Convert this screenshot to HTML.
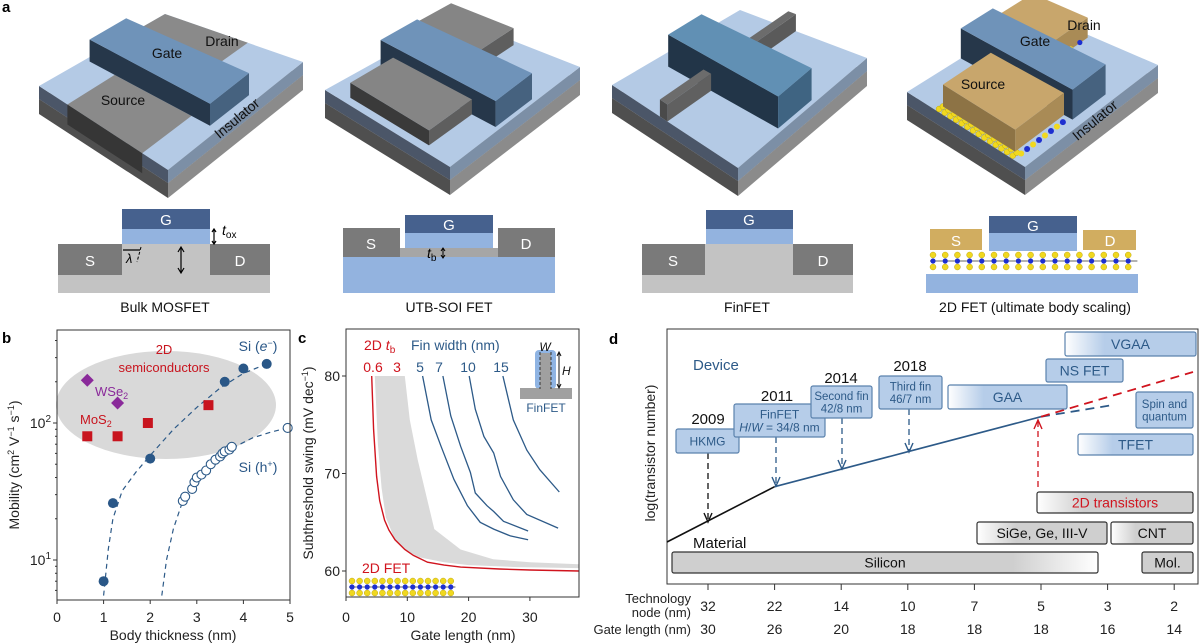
<!DOCTYPE html>
<html><head><meta charset="utf-8">
<style>
html,body{margin:0;padding:0;background:#fff;}
svg{display:block;font-family:"Liberation Sans",Arial,sans-serif;}
</style></head>
<body>
<svg id="fig" width="1200" height="644" viewBox="0 0 1200 644" xmlns="http://www.w3.org/2000/svg">
<defs>
<linearGradient id="gBlue" x1="0" x2="1" y1="0" y2="0"><stop offset="0" stop-color="#ffffff"/><stop offset="0.3" stop-color="#b6cde9"/><stop offset="1" stop-color="#b6cde9"/></linearGradient>
<linearGradient id="gGray" x1="0" x2="1" y1="0" y2="0"><stop offset="0" stop-color="#ffffff"/><stop offset="0.3" stop-color="#cfcfcf"/><stop offset="1" stop-color="#cfcfcf"/></linearGradient>
<linearGradient id="gGrayR" x1="0" x2="1" y1="0" y2="0"><stop offset="0" stop-color="#cfcfcf"/><stop offset="0.8" stop-color="#cfcfcf"/><stop offset="1" stop-color="#ffffff"/></linearGradient>
</defs>
<g id="panelA"></g>
<g id="panelB"></g>
<g id="panelC"></g>
<g id="panelD"></g>
</svg>
<script>
// ---------- Panel b data ----------
const siEx = [1, 1.2, 2, 3.6, 4, 4.5];
const siEy = [7, 26, 55, 200, 250, 270];
const siHx = [2.7, 2.75, 2.9, 2.95, 3.0, 3.1, 3.2, 3.3, 3.4, 3.5, 3.55, 3.6, 3.7, 3.75, 4.95];
const siHy = [27, 29, 33, 37, 40, 42, 45, 50, 54, 57, 60, 62, 64, 67, 92];
const mos2x = [0.65, 1.3, 1.95, 3.25];
const mos2y = [80, 80, 100, 135];
const wse2x = [0.65, 1.3];
const wse2y = [205, 140];
const fitEx = [1, 1.1, 1.2, 1.4, 1.7, 2, 2.5, 3, 3.5, 4, 4.5];
const fitEy = [5.5, 12, 20, 32, 44, 58, 90, 130, 180, 230, 270];
const fitHx = [2.25, 2.35, 2.5, 2.7, 3, 3.3, 3.7, 4.2, 4.6, 5];
const fitHy = [5.5, 10, 17, 27, 40, 50, 64, 78, 86, 93];
const bXTicks = [0, 1, 2, 3, 4, 5];
// ---------- Panel c data ----------
const red2Dx = [4.2, 4.5, 5, 5.5, 6.3, 7, 8, 9.6, 11, 13.3, 16, 18.7, 25, 30, 38];
const red2Dy = [80, 74.5, 69.7, 67.2, 65.2, 64.2, 63.2, 62.2, 61.6, 60.9, 60.6, 60.4, 60.2, 60.1, 60.0];
const bandTopX = [9.6, 10.4, 11.7, 14.4, 18.7, 24, 30, 38];
const bandTopY = [80, 75.5, 71.4, 64.3, 62.2, 61.2, 60.9, 60.7];
const bandLowX = [4.7, 5.2, 5.8, 6.5, 8, 10, 12, 16, 20, 28, 38];
const bandLowY = [80, 73, 68.5, 65.5, 63.2, 62, 61.4, 60.9, 60.6, 60.4, 60.3];
const fin5x = [12.5, 13.9, 15.5, 17.6, 19.8, 21.9, 24.1, 26.8, 29.7];
const fin5y = [80, 75.5, 72.8, 69.4, 66.7, 65, 64.3, 63.6, 63.2];
const fin7x = [15.8, 17.1, 18.7, 20.3, 21.1, 23, 24.1, 25.7, 29.7];
const fin7y = [80, 75.9, 72.8, 70.1, 68, 66.7, 66.1, 65.1, 64.1];
const fin10x = [20.1, 21.1, 22.5, 24.1, 25.2, 27.3, 29.5, 34.6];
const fin10y = [80, 76.6, 73.8, 72.1, 69.7, 67.3, 65.8, 64.4];
const fin15x = [25.6, 27.3, 29.5, 31.6, 34.8];
const fin15y = [80, 75.5, 72.4, 70.4, 68.1];
const cXTicks = [0, 10, 20, 30];
const cYTicks = [60, 70, 80];
// ---------- Panel d data ----------
const nodeLabels = ["32", "22", "14", "10", "7", "5", "3", "2"];
const gateLabels = ["30", "26", "20", "18", "18", "18", "16", "14"];
const trendIdx = [-0.6, 1, 2, 3, 5];
const trendVal = [1.2, 2.78, 3.28, 3.78, 4.78];

const NS = "http://www.w3.org/2000/svg";
function mk(tag, parent, attrs) {
  const e = document.createElementNS(NS, tag);
  for (const k in attrs) e.setAttribute(k, attrs[k]);
  parent.appendChild(e);
  return e;
}
function txt(parent, x, y, s, size, fill, anchor, extra) {
  const t = mk("text", parent, Object.assign({x: x, y: y, "font-size": size, fill: fill || "#111", "text-anchor": anchor || "start"}, extra || {}));
  t.innerHTML = s;
  return t;
}

// ================= Panel a =================
const A = document.getElementById("panelA");
const lblA = txt(A, 2, 12, "a", 15, "#000", "start", {"font-weight": "bold"});



// bilinear mapping between 4 top corners: L (left), F (front), R (right), K (back)
function makeDev(L, F, R, K) {
  return function (a, b, z) {
    const w0 = (1 - a) * (1 - b), w1 = a * (1 - b), w2 = a * b, w3 = (1 - a) * b;
    return [w0 * L[0] + w1 * F[0] + w2 * R[0] + w3 * K[0], w0 * L[1] + w1 * F[1] + w2 * R[1] + w3 * K[1] - z];
  };
}
function poly(g, pts, fill) {
  return mk("polygon", g, {points: pts.map(p => p[0].toFixed(1) + "," + p[1].toFixed(1)).join(" "), fill: fill});
}
function box(g, P, a0, a1, b0, b1, z0, z1, cTop, cLeft, cFront) {
  poly(g, [P(a0, b0, z1), P(a1, b0, z1), P(a1, b0, z0), P(a0, b0, z0)], cLeft);
  poly(g, [P(a1, b0, z1), P(a1, b1, z1), P(a1, b1, z0), P(a1, b0, z0)], cFront);
  poly(g, [P(a0, b0, z1), P(a1, b0, z1), P(a1, b1, z1), P(a0, b1, z1)], cTop);
}
function base(g, P) {
  box(g, P, 0, 1, 0, 1, -28, -13, "#8a8a8a", "#4f4f4f", "#8b8b8b");
  box(g, P, 0, 1, 0, 1, -13, 0, "#b4cae5", "#4b5668", "#7c8fa6");
}
const gateC = ["#6f93b9", "#26374a", "#46627f"];
const grayC = ["#858585", "#3a3a3a", "#5e5e5e"];
const goldC = ["#c8a66c", "#8d7345", "#a98b56"];

// Device 1: Bulk MOSFET
const g1 = mk("g", A, {});


const P1 = makeDev([39, 86], [168, 170], [303, 62], [165, 14]);
base(g1, P1);
poly(g1, [P1(0, 0.67, 0), P1(0.6, 0.67, 0), P1(0.6, 1, 0), P1(0, 1, 0)], "#8a8a8a");
poly(g1, [P1(0.22, 0, 0), P1(0.8, 0, 0), P1(0.8, 0.37, 0), P1(0.22, 0.37, 0)], "#8a8a8a");
poly(g1, [P1(0.22, 0, 0), P1(0.8, 0, 0), P1(0.8, 0, -20), P1(0.22, 0, -20)], "#363636");
box(g1, P1, 0.03, 0.94, 0.37, 0.66, 0, 22, gateC[0], gateC[1], gateC[2]);
txt(g1, 167, 58, "Gate", 14, "#111", "middle");
txt(g1, 222, 46, "Drain", 14, "#111", "middle");
txt(g1, 123, 105, "Source", 14, "#111", "middle");
txt(g1, 0, 0, "Insulator", 14, "#111", "middle", {transform: "translate(240,122) rotate(-40)"});

// Device 2: UTB-SOI
const g2 = mk("g", A, {});


const P2 = makeDev([325, 90], [450, 167], [580, 67], [455, 18]);
base(g2, P2);
box(g2, P2, 0.0, 0.5, 0.68, 0.97, 0, 17, grayC[0], grayC[1], grayC[2]);
box(g2, P2, 0.05, 0.97, 0.38, 0.66, 0, 26, gateC[0], gateC[1], gateC[2]);
box(g2, P2, 0.15, 0.78, 0.05, 0.38, 0, 15, grayC[0], grayC[1], grayC[2]);

// Device 3: FinFET
const g3 = mk("g", A, {});


const P3 = makeDev([612, 85], [738, 168], [867, 58], [740, 10]);
base(g3, P3);
box(g3, P3, 0.38, 0.44, 0.6, 1, 0, 17, "#6c6c6c", "#555", "#5a5a5a");
box(g3, P3, 0.1, 0.97, 0.34, 0.6, 0, 32, "#6190b4", "#223548", "#3f6482");
box(g3, P3, 0.38, 0.44, 0, 0.34, 0, 17, "#6c6c6c", "#4a4a4a", "#606060");

// Device 4: 2D FET
const g4 = mk("g", A, {});


const P4 = makeDev([907, 92], [1025, 167], [1158, 65], [1035, 12]);
base(g4, P4);
box(g4, P4, 0.0, 0.45, 0.68, 0.98, 0, 20, goldC[0], goldC[1], goldC[2]);
for (let i = 0; i < 4; i++) {
  const p = P4(0.46, 0.7 + i * 0.07, 2);
  mk("circle", g4, {cx: p[0], cy: p[1], r: 2.6, fill: i % 2 ? "#1d2fd0" : "#f0d820"});
}
box(g4, P4, 0.0, 0.93, 0.42, 0.67, 0, 30, gateC[0], gateC[1], gateC[2]);
for (let i = 0; i < 14; i++) {
  for (let r = 0; r < 2; r++) {
    const p = P4(0.25 + i * 0.048, 0.02 + r * 0.03, 0);
    mk("circle", g4, {cx: p[0], cy: p[1], r: 3, fill: "#f0d820", stroke: "#b8a000", "stroke-width": 0.4});
  }
}
for (let i = 0; i < 8; i++) {
  const p = P4(0.9, 0.06 + i * 0.045, 0);
  mk("circle", g4, {cx: p[0], cy: p[1], r: 3, fill: i % 2 ? "#1d2fd0" : "#f0d820"});
}
box(g4, P4, 0.25, 0.86, 0.05, 0.42, 0, 22, goldC[0], goldC[1], goldC[2]);
txt(g4, 1084, 30, "Drain", 14, "#111", "middle");
txt(g4, 1035, 46, "Gate", 14, "#111", "middle");
txt(g4, 983, 89, "Source", 14, "#111", "middle");
txt(g4, 0, 0, "Insulator", 14, "#111", "middle", {transform: "translate(1098,124) rotate(-40)"});

// cross sections
function rect(g, x, y, w, h, fill, name) {
  const r = mk("rect", g, {x: x, y: y, width: w, height: h, fill: fill});
  
  
  return r;
}
const x1 = mk("g", A, {});


rect(x1, 58, 244, 212, 49, "#c3c3c3", "substrate");
rect(x1, 58, 244, 64, 31, "#7a7a7a", "source-block");
rect(x1, 210, 244, 60, 31, "#7a7a7a", "drain-block");
rect(x1, 122, 209, 88, 20, "#46618e", "gate-block");
rect(x1, 122, 229, 88, 15, "#93b3df", "oxide-block");
txt(x1, 90, 266, "S", 15, "#fff", "middle");
txt(x1, 240, 266, "D", 15, "#fff", "middle");
txt(x1, 166, 225, "G", 15, "#fff", "middle");
mk("path", x1, {d: "M214,230 L214,243 M212,232 L214,229 L216,232 M212,241 L214,244 L216,241 M181,248 L181,272 M178,252 L181,247 L184,252 M178,268 L181,273 L184,268 M123,250 L140,250", stroke: "#000", "stroke-width": 1.2, fill: "none"});
mk("path", x1, {d: "M141,247 L137,262", stroke: "#000", "stroke-width": 1, "stroke-dasharray": "3,2", fill: "none"});
txt(x1, 126, 263, "λ", 13, "#000", "start", {"font-style": "italic"});
txt(x1, 222, 235, "<tspan font-style='italic'>t</tspan><tspan font-size='10' dy='3'>ox</tspan>", 14, "#000");
txt(x1, 165, 312, "Bulk MOSFET", 14, "#111", "middle");

const x2 = mk("g", A, {});


rect(x2, 343, 257, 212, 36, "#93b3df", "buried-oxide");
rect(x2, 400, 248, 98, 9, "#a6a6a6", "thin-body");
rect(x2, 343, 228, 57, 29, "#7a7a7a", "source-block");
rect(x2, 498, 228, 57, 29, "#7a7a7a", "drain-block");
rect(x2, 405, 215, 88, 18, "#46618e", "gate-block");
rect(x2, 405, 233, 88, 15, "#93b3df", "oxide-block");
txt(x2, 371, 249, "S", 15, "#fff", "middle");
txt(x2, 526, 249, "D", 15, "#fff", "middle");
txt(x2, 449, 230, "G", 15, "#fff", "middle");
txt(x2, 427, 258, "<tspan font-style='italic'>t</tspan><tspan font-size='10' dy='3'>b</tspan>", 14, "#000");
mk("path", x2, {d: "M443,249 L443,257 M441,251 L443,248 L445,251 M441,255 L443,258 L445,255", stroke: "#000", "stroke-width": 1, fill: "none"});
txt(x2, 449, 312, "UTB-SOI FET", 14, "#111", "middle");

const x3 = mk("g", A, {});


rect(x3, 642, 244, 211, 49, "#c3c3c3", "substrate");
rect(x3, 642, 244, 63, 31, "#7a7a7a", "source-block");
rect(x3, 793, 244, 60, 31, "#7a7a7a", "drain-block");
rect(x3, 706, 210, 87, 19, "#46618e", "gate-block");
rect(x3, 706, 229, 87, 15, "#93b3df", "oxide-block");
txt(x3, 673, 266, "S", 15, "#fff", "middle");
txt(x3, 823, 266, "D", 15, "#fff", "middle");
txt(x3, 749, 225, "G", 15, "#fff", "middle");
txt(x3, 747, 312, "FinFET", 14, "#111", "middle");

function atoms(g, x0, x1p, yTop, step) {
  for (let x = x0; x <= x1p; x += step) {
    mk("line", g, {x1: x, y1: yTop + 9, x2: x + step, y2: yTop + 9, stroke: "#999", "stroke-width": 1.5});
  }
  for (let x = x0 + 3; x <= x1p; x += step) {
    mk("circle", g, {cx: x, cy: yTop + 3, r: 3, fill: "#f0d820", stroke: "#b09800", "stroke-width": 0.4});
    mk("circle", g, {cx: x, cy: yTop + 15, r: 3, fill: "#f0d820", stroke: "#b09800", "stroke-width": 0.4});
    mk("circle", g, {cx: x, cy: yTop + 9, r: 2.6, fill: "#1d2fd0"});
  }
}
const x4 = mk("g", A, {});


rect(x4, 926, 274, 212, 19, "#93b3df", "substrate");
const at4 = mk("g", x4, {});


atoms(at4, 930, 1134, 252, 12.2);
rect(x4, 930, 229, 52, 21, "#d1ad60", "source-block");
rect(x4, 1083, 230, 53, 20, "#d1ad60", "drain-block");
rect(x4, 989, 216, 88, 17, "#46618e", "gate-block");
rect(x4, 989, 233, 88, 18, "#93b3df", "oxide-block");
txt(x4, 956, 246, "S", 15, "#fff", "middle");
txt(x4, 1110, 246, "D", 15, "#fff", "middle");
txt(x4, 1033, 231, "G", 15, "#fff", "middle");
txt(x4, 1035, 312, "2D FET (ultimate body scaling)", 14, "#111", "middle");

// ================= Panel b =================
const B = document.getElementById("panelB");
const bx0 = 57, bx1 = 290, by0 = 330, by1 = 600;
const xb = v => bx0 + v * (bx1 - bx0) / 5;
const yb = v => 423 - 137 * Math.log10(v / 100);
const lb = txt(B, 2, 343, "b", 15, "#000", "start", {"font-weight": "bold"});


const ell = mk("ellipse", B, {cx: 166, cy: 405, rx: 110, ry: 54, fill: "#d9d9d9"});


function pathFrom(xs, ys, fx, fy) { return xs.map((x, i) => (i ? "L" : "M") + fx(x).toFixed(1) + "," + fy(ys[i]).toFixed(1)).join(" "); }
const fe = mk("path", B, {d: pathFrom(fitEx, fitEy, xb, yb), fill: "none", stroke: "#2d5a88", "stroke-width": 1.2, "stroke-dasharray": "5,4"});


const fh = mk("path", B, {d: pathFrom(fitHx, fitHy, xb, yb), fill: "none", stroke: "#2d5a88", "stroke-width": 1.2, "stroke-dasharray": "5,4"});


siHx.forEach((x, i) => {
  const c = mk("circle", B, {cx: xb(x), cy: yb(siHy[i]), r: 4.5, fill: "#fff", stroke: "#2d5a88", "stroke-width": 1.1});
  
  
});
siEx.forEach((x, i) => {
  const c = mk("circle", B, {cx: xb(x), cy: yb(siEy[i]), r: 5, fill: "#2a5787"});
  
  
});
mos2x.forEach((x, i) => {
  const r = mk("rect", B, {x: xb(x) - 5, y: yb(mos2y[i]) - 5, width: 10, height: 10, fill: "#c8141e"});
  
  
});
wse2x.forEach((x, i) => {
  const cx = xb(x), cy = yb(wse2y[i]);
  const p = mk("polygon", B, {points: `${cx},${cy - 6.5} ${cx + 6.5},${cy} ${cx},${cy + 6.5} ${cx - 6.5},${cy}`, fill: "#8a2a9a"});
  
  
});
const bFrame = mk("rect", B, {x: bx0, y: by0, width: bx1 - bx0, height: by1 - by0, fill: "none", stroke: "#333", "stroke-width": 1});


bXTicks.forEach(t => {
  mk("line", B, {x1: xb(t), y1: by1, x2: xb(t), y2: by1 + 4, stroke: "#333"});
  const tl = txt(B, xb(t), 622, String(t), 14, "#222", "middle");
  
  
});
[2, 1].forEach(p => {
  mk("line", B, {x1: bx0 - 4, y1: yb(Math.pow(10, p)), x2: bx0, y2: yb(Math.pow(10, p)), stroke: "#333"});
  const tl = txt(B, bx0 - 6, yb(Math.pow(10, p)) + 5, "10<tspan font-size='10' dy='-6'>" + p + "</tspan>", 14, "#222", "end");
  
  
});
for (let k = 2; k <= 9; k++) {
  [1, 10, 100].forEach(d => { const v = k * d; const y = yb(v); if (y > by0 && y < by1) mk("line", B, {x1: bx0 - 2, y1: y, x2: bx0, y2: y, stroke: "#333"}); });
}
const bxt = txt(B, 173, 640, "Body thickness (nm)", 14, "#222", "middle");


const byt = txt(B, 0, 0, "Mobility (cm<tspan font-size='9' dy='-5'>2</tspan><tspan dy='5'> V</tspan><tspan font-size='9' dy='-5'>−1</tspan><tspan dy='5'> s</tspan><tspan font-size='9' dy='-5'>−1</tspan><tspan dy='5'>)</tspan>", 14, "#222", "middle", {transform: "translate(19,465) rotate(-90)"});


txt(B, 164, 354, "2D", 13, "#c8141e", "middle");
txt(B, 164, 372, "semiconductors", 13, "#c8141e", "middle");
txt(B, 258, 351, "Si (<tspan font-style='italic'>e</tspan><tspan font-size='9' dy='-5'>−</tspan><tspan dy='5'>)</tspan>", 14, "#2a5787", "middle");
txt(B, 258, 472, "Si (h<tspan font-size='9' dy='-5'>+</tspan><tspan dy='5'>)</tspan>", 14, "#2a5787", "middle");
txt(B, 95, 396, "WSe<tspan font-size='9' dy='3'>2</tspan>", 13, "#8a2a9a");
txt(B, 80, 424, "MoS<tspan font-size='9' dy='3'>2</tspan>", 13, "#c8141e");

// ================= Panel c =================
const C = document.getElementById("panelC");
const cx0 = 346, cx1 = 579, cy0 = 329, cy1 = 597;
const xc = v => cx0 + v * 6.13;
const yc = v => 571 - (v - 60) * 9.75;
const lc = txt(C, 298, 343, "c", 15, "#000", "start", {"font-weight": "bold"});


let bandD = bandTopX.map((x, i) => (i ? "L" : "M") + xc(x).toFixed(1) + "," + yc(bandTopY[i]).toFixed(1)).join(" ");
for (let i = bandLowX.length - 1; i >= 0; i--) bandD += " L" + xc(bandLowX[i]).toFixed(1) + "," + yc(bandLowY[i]).toFixed(1);
const band = mk("path", C, {d: bandD + " Z", fill: "#dadada"});


const red = mk("path", C, {d: pathFrom(red2Dx, red2Dy, xc, yc), fill: "none", stroke: "#d0141e", "stroke-width": 1.4});


[[fin5x, fin5y, 'fin-5nm-curve'], [fin7x, fin7y, 'fin-7nm-curve'], [fin10x, fin10y, 'fin-10nm-curve'], [fin15x, fin15y, 'fin-15nm-curve']].forEach(s => {
  const p = mk("path", C, {d: pathFrom(s[0], s[1], xc, yc), fill: "none", stroke: "#2d5a88", "stroke-width": 1.3});
  
  
});
const cFrame = mk("rect", C, {x: cx0, y: cy0, width: cx1 - cx0, height: cy1 - cy0, fill: "none", stroke: "#333"});


cXTicks.forEach(t => {
  mk("line", C, {x1: xc(t), y1: cy1, x2: xc(t), y2: cy1 + 4, stroke: "#333"});
  const tl = txt(C, xc(t), 622, String(t), 14, "#222", "middle");
  
  
});
cYTicks.forEach(t => {
  mk("line", C, {x1: cx0 - 4, y1: yc(t), x2: cx0, y2: yc(t), stroke: "#333"});
  const tl = txt(C, cx0 - 6, yc(t) + 5, String(t), 14, "#222", "end");
  
  
});
const cxt = txt(C, 463, 640, "Gate length (nm)", 14, "#222", "middle");


const cyt = txt(C, 0, 0, "Subthreshold swing (mV dec<tspan font-size='9' dy='-5'>−1</tspan><tspan dy='5'>)</tspan>", 14, "#222", "middle", {transform: "translate(313,463) rotate(-90)"});


txt(C, 364, 350, "2D <tspan font-style='italic'>t</tspan><tspan font-size='10' dy='3'>b</tspan>", 14, "#d0141e");
txt(C, 411, 350, "Fin width (nm)", 14, "#2d5a88");
txt(C, 373, 372, "0.6", 14, "#d0141e", "middle");
txt(C, 397, 372, "3", 14, "#d0141e", "middle");
txt(C, 420, 372, "5", 14, "#2d5a88", "middle");
txt(C, 439, 372, "7", 14, "#2d5a88", "middle");
txt(C, 468, 372, "10", 14, "#2d5a88", "middle");
txt(C, 501, 372, "15", 14, "#2d5a88", "middle");
txt(C, 362, 573, "2D FET", 14, "#d0141e");
const inset = mk("g", C, {});


mk("rect", inset, {x: 535, y: 350, width: 21, height: 39, rx: 4, fill: "#8fb4e3"});
mk("rect", inset, {x: 540, y: 353, width: 11, height: 36, fill: "#a0a0a0"});
mk("rect", inset, {x: 520, y: 388, width: 52, height: 11, fill: "#a0a0a0"});
mk("path", inset, {d: "M540,352 L540,389 M551,352 L551,389", stroke: "#333", "stroke-dasharray": "3,2", fill: "none"});
mk("path", inset, {d: "M559,353 L559,387 M557,356 L559,352 L561,356 M557,384 L559,388 L561,384", stroke: "#111", fill: "none"});
txt(inset, 545, 351, "W", 12, "#111", "middle", {"font-style": "italic"});
txt(inset, 562, 375, "H", 12, "#111", "start", {"font-style": "italic"});
txt(inset, 546, 412, "FinFET", 12, "#2d5a88", "middle");
const at2 = mk("g", C, {});


atoms(at2, 349, 453, 578, 7.6);

// ================= Panel d =================
const D = document.getElementById("panelD");
const dx0 = 667, dx1 = 1198, dy0 = 329, dy1 = 584;
const xd = i => 708 + i * 66.6;
const yd = v => 584 - v * 35;
const ld = txt(D, 609, 344, "d", 15, "#000", "start", {"font-weight": "bold"});


const dFrame = mk("rect", D, {x: dx0, y: dy0, width: dx1 - dx0, height: dy1 - dy0, fill: "none", stroke: "#333"});


nodeLabels.forEach((n, i) => {
  mk("line", D, {x1: xd(i), y1: dy1, x2: xd(i), y2: dy1 + 6, stroke: "#333"});
  const t1 = txt(D, xd(i), 611, n, 14, "#222", "middle");
  
  
  const t2 = txt(D, xd(i), 634, gateLabels[i], 14, "#222", "middle");
  
  
});
txt(D, 691, 603, "Technology", 13, "#222", "end");
txt(D, 691, 617, "node (nm)", 13, "#222", "end");
txt(D, 691, 634, "Gate length (nm)", 13, "#222", "end");
const dyt = txt(D, 0, 0, "log(transistor number)", 14, "#222", "middle", {transform: "translate(655,453) rotate(-90)"});


txt(D, 693, 370, "Device", 15, "#2d5a88");
txt(D, 693, 548, "Material", 15, "#111");
const tb = mk("path", D, {d: `M${dx0},${yd(trendVal[0])} L${xd(trendIdx[1])},${yd(trendVal[1])}`, stroke: "#111", "stroke-width": 1.6, fill: "none"});


let td = "";
for (let i = 1; i < trendIdx.length; i++) td += (i > 1 ? " L" : "M") + xd(trendIdx[i]).toFixed(1) + "," + yd(trendVal[i]).toFixed(1);
const tl = mk("path", D, {d: td, stroke: "#2d5a88", "stroke-width": 1.6, fill: "none"});


const bdash = mk("path", D, {d: `M${xd(5)},${yd(4.78)} L1113,405`, stroke: "#2d5a88", "stroke-width": 1.8, "stroke-dasharray": "9,6", fill: "none"});


const rdash = mk("path", D, {d: `M${xd(5)},${yd(4.78)} L1193,372`, stroke: "#d0141e", "stroke-width": 1.8, "stroke-dasharray": "9,6", fill: "none"});


function arrow(x, y0, y1, col, up) {
  const g = mk("g", D, {});
  mk("line", g, {x1: x, y1: y0, x2: x, y2: y1, stroke: col, "stroke-width": 1.3, "stroke-dasharray": "6,4"});
  const d = up ? `M${x - 4},${y1 + 9} L${x},${y1} L${x + 4},${y1 + 9}` : `M${x - 4},${y1 - 9} L${x},${y1} L${x + 4},${y1 - 9}`;
  mk("path", g, {d: d, stroke: col, "stroke-width": 1.4, fill: "none"});
  return g;
}
const ar1 = arrow(708, 453, 522, "#111", false);


const ar2 = arrow(776, 437, 486, "#2d5a88", false);


const ar3 = arrow(842, 418, 469, "#2d5a88", false);


const ar4 = arrow(909, 409, 452, "#2d5a88", false);


const ar5 = arrow(1038, 487, 420, "#d0141e", true);



function dbox(x0, y0, x1, y1, fill, stroke, lines, col, name, size) {
  const g = mk("g", D, {});
  
  
  mk("rect", g, {x: x0, y: y0, width: x1 - x0, height: y1 - y0, rx: 2, fill: fill, stroke: stroke, "stroke-width": 1.2});
  const cx = (x0 + x1) / 2, cy = (y0 + y1) / 2;
  const n = lines.length, lh = size + 1;
  lines.forEach((s, i) => txt(g, cx, cy + (i - (n - 1) / 2) * lh + size * 0.36, s, size, col, "middle"));
  return g;
}
const BF = "#b6cde9", BS = "#5b82ad", BT = "#2d5a88";
dbox(676, 429, 739, 453, BF, BS, ["HKMG"], BT, "hkmg-box", 12);
dbox(734, 404, 825, 437, BF, BS, ["FinFET", "<tspan font-style='italic'>H</tspan>/<tspan font-style='italic'>W</tspan> = 34/8 nm"], BT, "finfet-box", 12);
dbox(811, 386, 872, 418, BF, BS, ["Second fin", "42/8 nm"], BT, "second-fin-box", 11.5);
dbox(879, 376, 942, 409, BF, BS, ["Third fin", "46/7 nm"], BT, "third-fin-box", 11.5);
dbox(948, 385, 1067, 409, "url(#gBlue)", BS, ["GAA"], BT, "gaa-box", 14);
dbox(1046, 359, 1123, 382, BF, BS, ["NS FET"], BT, "nsfet-box", 14);
dbox(1065, 332, 1196, 356, "url(#gBlue)", BS, ["VGAA"], BT, "vgaa-box", 14);
dbox(1136, 392, 1193, 428, BF, BS, ["Spin and", "quantum"], BT, "spin-quantum-box", 11.5);
dbox(1078, 434, 1193, 455, "url(#gBlue)", BS, ["TFET"], BT, "tfet-box", 14);
dbox(1037, 492, 1193, 513, "url(#gGray)", "#333", ["2D transistors"], "#d0141e", "2d-transistors-box", 14);
dbox(977, 522, 1107, 544, "url(#gGray)", "#333", ["SiGe, Ge, III-V"], "#111", "sige-ge-iiiv-box", 14);
dbox(1111, 522, 1193, 544, "url(#gGray)", "#333", ["CNT"], "#111", "cnt-box", 14);
dbox(672, 552, 1098, 573, "url(#gGrayR)", "#333", ["Silicon"], "#111", "silicon-box", 14);
dbox(1142, 552, 1193, 573, "#cfcfcf", "#333", ["Mol."], "#111", "mol-box", 14);
txt(D, 708, 424, "2009", 15, "#111", "middle");
txt(D, 777, 401, "2011", 15, "#111", "middle");
txt(D, 841, 383, "2014", 15, "#111", "middle");
txt(D, 910, 371, "2018", 15, "#111", "middle");
</script>
</body></html>
